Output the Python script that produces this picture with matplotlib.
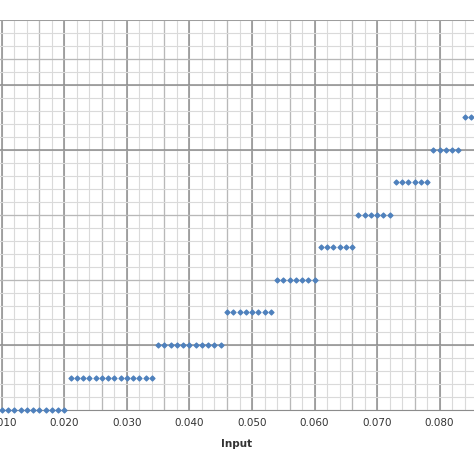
import matplotlib
matplotlib.use("Agg")
import matplotlib.pyplot as plt
import numpy as np

level_starts = [0.010, 0.021, 0.035, 0.046, 0.054, 0.061, 0.067, 0.073, 0.079, 0.084]
level_ends   = [0.020, 0.034, 0.045, 0.053, 0.060, 0.066, 0.072, 0.078, 0.083, 0.086]
level_values = [0, 1, 2, 3, 4, 5, 6, 7, 8, 9]

xs, ys = [], []
for s, e, v in zip(level_starts, level_ends, level_values):
    n = int(round((e - s) / 0.001)) + 1
    for i in range(n):
        xs.append(s + i * 0.001)
        ys.append(v)

fig = plt.figure(figsize=(4.74, 4.74), dpi=100)
ax = fig.add_axes([0.0, 0.135, 1.0, 0.823])
ax.set_xlim(0.0097, 0.0855)
ax.set_ylim(0, 12)

# grid
for x in np.arange(0.010, 0.0856, 0.002):
    ax.axvline(x, color="#dadada", lw=0.8, zorder=0)
for x in np.arange(0.016, 0.0856, 0.010):
    ax.axvline(x, color="#b8b8b8", lw=0.9, zorder=0)
for x in np.arange(0.010, 0.0856, 0.010):
    ax.axvline(x, color="#8c8c8c", lw=1.1, zorder=0)
for y in np.arange(0, 12.01, 0.4):
    ax.axhline(y, color="#dadada", lw=0.8, zorder=0)
for y in [4, 6, 1.2 * 9]:
    ax.axhline(y, color="#b8b8b8", lw=0.9, zorder=0)
for y in [2, 8, 10, 12]:
    ax.axhline(y, color="#8c8c8c", lw=1.1, zorder=0)

ax.scatter(xs, ys, s=6, color="#4f81bd", marker="D", zorder=3, clip_on=False)

ax.set_xticks(np.arange(0.010, 0.0856, 0.010))
ax.set_xticklabels([f"{t:.3f}" for t in np.arange(0.010, 0.0856, 0.010)], fontsize=7.5, color="#333333")
ax.set_yticks([])
ax.tick_params(axis="x", length=0, pad=6)
for sp in ax.spines.values():
    sp.set_visible(False)
ax.spines["bottom"].set_visible(True)
ax.spines["bottom"].set_color("#8c8c8c")
ax.set_xlabel("Input", fontsize=7.5, fontweight="bold", color="#333333", labelpad=8)
fig.savefig("out.png", dpi=100)
